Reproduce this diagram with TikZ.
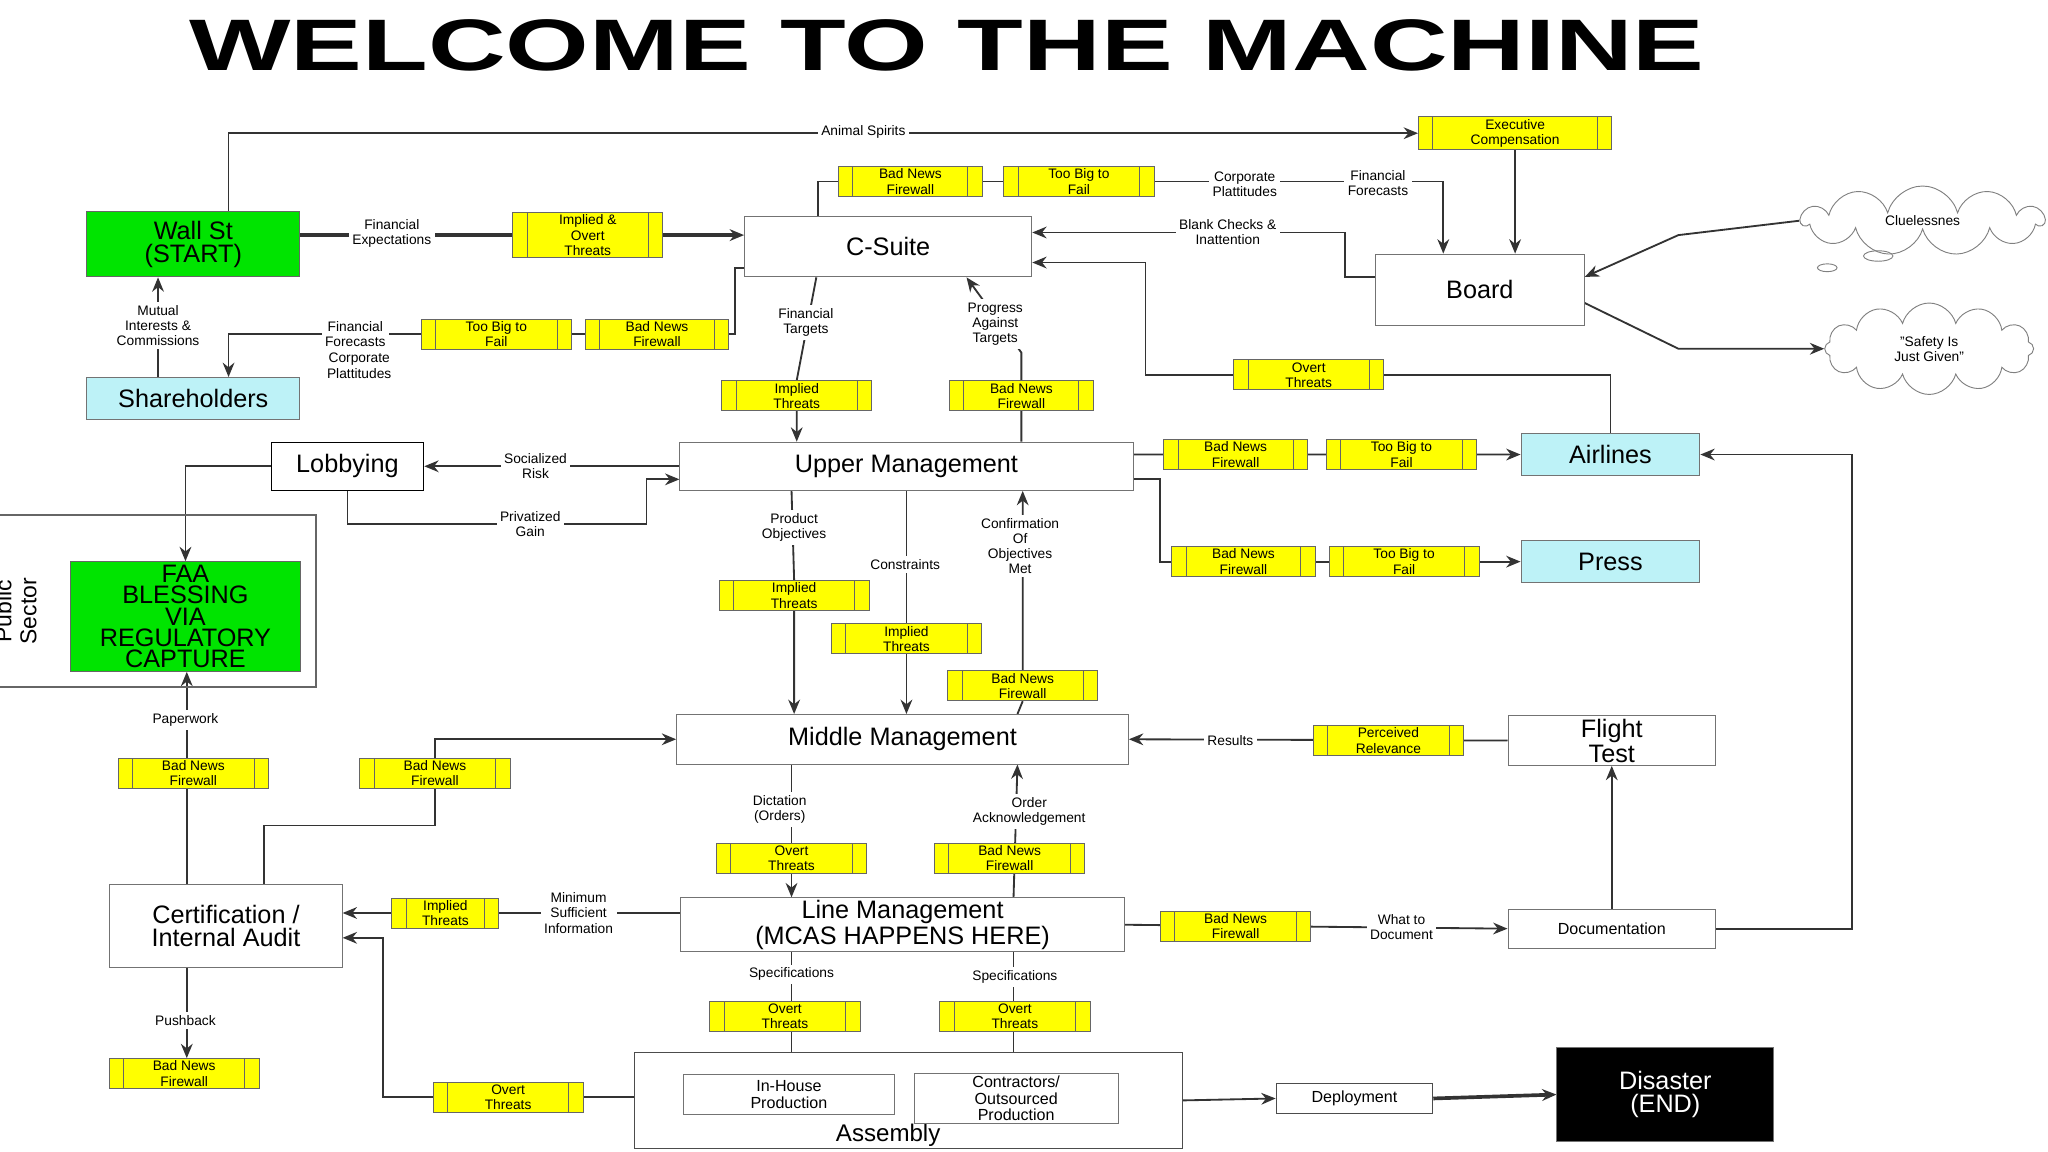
\documentclass[tikz,border=0pt]{standalone}
\usepackage{fontspec}
\setmainfont{Liberation Sans}
\usetikzlibrary{shapes.symbols,shapes.geometric,arrows.meta,calc}
\pgfdeclarelayer{background}
\pgfsetlayers{background,main}
\definecolor{gr}{HTML}{00E400}
\definecolor{cy}{HTML}{BDF2F7}
\definecolor{ye}{HTML}{FFFF00}
\newcommand\smf{\fontsize{6}{6.6}\selectfont}
\newcommand\bxf{\fontsize{11}{11.5}\selectfont}
\tikzset{
 yb/.style={draw=black!60, fill=ye, minimum width=2.3cm, minimum height=0.46cm, inner sep=1pt, align=center, font=\smf,
   path picture={\draw[black!60] ([xshift=0.22cm]path picture bounding box.south west) -- ([xshift=0.22cm]path picture bounding box.north west);
                 \draw[black!60] ([xshift=-0.22cm]path picture bounding box.south east) -- ([xshift=-0.22cm]path picture bounding box.north east);}},
 bx/.style={draw=black!55, fill=white, align=center, font=\bxf, inner sep=1pt},
 lbl/.style={fill=white, inner sep=1.5pt, align=center, font=\smf},
 ar/.style={-{Stealth[length=2.2mm,width=1.8mm]}},
 ln/.style={draw=black!80, line width=0.8pt},
}
\begin{document}
\begin{tikzpicture}[x=0.02cm,y=-0.02cm]
\useasboundingbox (0,0) rectangle (1568,882);
% title
\node (title) at (725,35) {\resizebox{23.2cm}{0.78cm}{\bfseries WELCOME TO THE MACHINE}};
% public sector frame
\draw[black!60, line width=0.8pt] (-5,394) rectangle (242,526);
\node[rotate=90, align=center, font=\fontsize{10}{11}\selectfont] (pst) at (12,468) {Public\\Sector};
% main boxes
\node[bx, fill=gr, draw=black!60, minimum width=3.26cm, minimum height=1cm, font=\fontsize{11}{10}\selectfont] (ws) at (148,187) {Wall St\\(START)};
\node[bx, fill=cy, minimum width=3.26cm, minimum height=0.64cm] (sh) at (148,305) {Shareholders};
\node[bx, minimum width=4.4cm, minimum height=0.92cm] (cs) at (680,189) {C-Suite};
\node[bx, minimum width=3.2cm, minimum height=1.1cm] (bd) at (1133,222) {Board};
\node[bx, draw=black, minimum width=2.34cm, minimum height=0.74cm] (lob) at (266,357) {Lobbying};
\node[bx, minimum width=6.94cm, minimum height=0.74cm] (um) at (694,357) {Upper Management};
\node[bx, fill=cy, minimum width=2.74cm, minimum height=0.64cm] (air) at (1233,348) {Airlines};
\node[bx, fill=cy, minimum width=2.74cm, minimum height=0.64cm] (press) at (1233,430) {Press};
\node[bx, fill=gr, draw=black!60, minimum width=3.52cm, minimum height=1.68cm, font=\fontsize{11}{9.2}\selectfont] (faa) at (142,472) {FAA\\BLESSING\\VIA\\REGULATORY\\CAPTURE};
\node[bx, minimum width=6.92cm, minimum height=0.76cm] (mm) at (691,566) {Middle Management};
\node[bx, minimum width=3.18cm, minimum height=0.76cm, font=\fontsize{11}{9.5}\selectfont] (ft) at (1234,567) {Flight\\Test};
\node[bx, minimum width=3.56cm, minimum height=1.26cm, font=\fontsize{11}{10}\selectfont] (cert) at (173,709) {Certification /\\Internal Audit};
\node[bx, minimum width=6.8cm, minimum height=0.78cm, font=\fontsize{11}{9.5}\selectfont] (lm) at (691,708) {Line Management\\(MCAS HAPPENS HERE)};
\node[bx, minimum width=3.18cm, minimum height=0.6cm, font=\fontsize{7}{8}\selectfont] (doc) at (1234,711) {Documentation};
\node[bx, draw=black!70, minimum width=8.38cm, minimum height=1.46cm] (asm) at (695.5,842.5) {};
\node[font=\fontsize{10.5}{11}\selectfont, inner sep=0pt] (asmt) at (680,869) {Assembly};
\node[bx, minimum width=3.22cm, minimum height=0.6cm, font=\fontsize{7}{7.5}\selectfont] (ihp) at (604,838) {In-House\\Production};
\node[bx, minimum width=3.12cm, minimum height=0.74cm, font=\fontsize{7}{7.3}\selectfont] (cop) at (778,841) {Contractors/\\Outsourced\\Production};
\node[bx, draw=black!70, minimum width=2.4cm, minimum height=0.46cm, font=\fontsize{7}{8}\selectfont] (dep) at (1037,841) {Deployment};
\node[bx, fill=black, text=white, minimum width=3.32cm, minimum height=1.44cm, font=\fontsize{11}{10}\selectfont] (dis) at (1275,838) {Disaster\\(END)};
% clouds
\node[cloud, cloud puffs=11, aspect=4.5, draw=black!50, fill=white, minimum width=3.7cm, minimum height=0.85cm, font=\smf] (cl1) at (1472,169) {Cluelessnes};
\node[ellipse, draw=black!50, minimum width=0.45cm, minimum height=0.16cm, inner sep=0pt] (e1) at (1438,196) {};
\node[ellipse, draw=black!50, minimum width=0.3cm, minimum height=0.12cm, inner sep=0pt] (e2) at (1399,205) {};
\node[cloud, cloud puffs=12, aspect=2.3, draw=black!50, fill=white, minimum width=3.2cm, minimum height=1.4cm, align=center, font=\smf] (cl2) at (1477,267) {"Safety Is\\Just Given"};
% yellow boxes
\node[yb, minimum width=2.96cm] (ec) at (1160,102) {Executive\\Compensation};
\node[yb, minimum height=0.64cm] (io) at (450,180) {Implied \&\\Overt\\Threats};
\node[yb, minimum width=2.2cm] (bn1) at (697,139) {Bad News\\Firewall};
\node[yb] (tb1) at (826,139) {Too Big to\\Fail};
\node[yb] (tb2) at (380,256) {Too Big to\\Fail};
\node[yb, minimum width=2.2cm] (bn2) at (503,256) {Bad News\\Firewall};
\node[yb] (it1) at (610,303) {Implied\\Threats};
\node[yb, minimum width=2.2cm] (bn3) at (782,303) {Bad News\\Firewall};
\node[yb] (ot1) at (1002,287) {Overt\\Threats};
\node[yb, minimum width=2.2cm] (bn9) at (946,348) {Bad News\\Firewall};
\node[yb] (tb3) at (1073,348) {Too Big to\\Fail};
\node[yb, minimum width=2.2cm] (bn10) at (952,430) {Bad News\\Firewall};
\node[yb] (tb4) at (1075,430) {Too Big to\\Fail};
\node[yb] (it2) at (608,456) {Implied\\Threats};
\node[yb] (it3) at (694,489) {Implied\\Threats};
\node[yb] (bn4) at (783,525) {Bad News\\Firewall};
\node[yb] (pr) at (1063,567) {Perceived\\Relevance};
\node[yb] (bn5) at (148,592) {Bad News\\Firewall};
\node[yb] (bn6) at (333,592) {Bad News\\Firewall};
\node[yb] (ot2) at (606,657) {Overt\\Threats};
\node[yb] (bn7) at (773,657) {Bad News\\Firewall};
\node[yb, minimum width=1.64cm] (it4) at (341,699) {Implied\\Threats};
\node[yb] (bn11) at (946,709) {Bad News\\Firewall};
\node[yb] (ot3) at (601,778) {Overt\\Threats};
\node[yb] (ot4) at (777,778) {Overt\\Threats};
\node[yb] (bn8) at (141,822) {Bad News\\Firewall};
\node[yb] (ot5) at (389,840) {Overt\\Threats};
% labels
\node[lbl] (l1) at (661,101) {Animal Spirits};
\node[lbl] (l2) at (300,179) {Financial\\Expectations};
\node[lbl] (l3) at (953,141) {Corporate\\Plattitudes};
\node[lbl] (l4) at (1055,140) {Financial\\Forecasts};
\node[lbl] (l5) at (940,178) {Blank Checks \&\\Inattention};
\node[lbl] (l6) at (121,249) {Mutual\\Interests \&\\Commissions};
\node[lbl] (l7) at (272,256) {Financial\\Forecasts};
\node[lbl] (l8) at (275,280) {Corporate\\Plattitudes};
\node[lbl] (l9) at (617,247) {Financial\\Targets};
\node[lbl] (l10) at (762,248) {Progress\\Against\\Targets};
\node[lbl] (l11) at (410,357) {Socialized\\Risk};
\node[lbl] (l12) at (406,401) {Privatized\\Gain};
\node[lbl] (l13) at (608,404) {Product\\Objectives};
\node[lbl] (l14) at (693,432) {Constraints};
\node[lbl] (l15) at (781,418) {Confirmation\\Of\\Objectives\\Met};
\node[lbl] (l16) at (942,567) {Results};
\node[lbl] (l17) at (142,551) {Paperwork};
\node[lbl] (l18) at (597,620) {Dictation\\(Orders)};
\node[lbl] (l19) at (788,621) {Order\\Acknowledgement};
\node[lbl] (l20) at (443,699) {Minimum\\Sufficient\\Information};
\node[lbl] (l21) at (1073,710) {What to\\Document};
\node[lbl] (l22) at (606,746) {Specifications};
\node[lbl] (l23) at (777,748) {Specifications};
\node[lbl] (l24) at (142,781) {Pushback};
% helper coordinates
\coordinate (k1) at (877,287);
\coordinate (k2) at (1285,180);
\coordinate (k3) at (1285,267);
\coordinate (k4) at (495,401);
\coordinate (k5) at (888,430);
\coordinate (k6) at (333,632);
\coordinate (k7) at (1418,348);
\coordinate (k8) at (293,718);
\coordinate (k9) at (782,270);
% connectors
\begin{pgfonlayer}{background}
\fill[white] (0,0) rectangle (1568,882);
\begin{scope}[ln]
\draw[ar] ([xshift=0.54cm]ws.north) |- (ec.west);
\draw[ar] (ec.south) -- (ec.south |- bd.north);
\draw[ar, line width=1.6pt] (ws.east |- io) -- (cs.west |- io);
\draw[ar] ([xshift=-0.54cm]sh.north) -- ([xshift=-0.54cm]ws.south);
\draw[ar] ([yshift=-0.32cm]cs.west) -- ++(-7,0) |- ([xshift=0.54cm]sh.north |- bn2) -- ([xshift=0.54cm]sh.north);
\draw[ar] ([xshift=-1.08cm]cs.north) |- (bn1) -- (tb1) -| ([xshift=-0.56cm]bd.north);
\draw[ar] ([yshift=0.2cm]bd.west) -- ++(-23,0) |- ([yshift=0.22cm]cs.east);
\draw[ar] (air.north) |- (ot1) -- (k1) |- ([yshift=-0.24cm]cs.east);
\draw[ar] (cl1.west) -- (k2) -- ([yshift=0.2cm]bd.east);
\draw[ar] ([yshift=-0.2cm]bd.east) -- (k3) -- (cl2.west);
\draw[ar] ([xshift=-1.1cm]cs.south) -- (it1.north) (it1.south) -- (it1.south |- um.north);
\draw[ar] ([xshift=1.76cm]um.north) -- (bn3.south) (bn3.north) -- (k9) -- ([xshift=1.2cm]cs.south);
\draw[ar] (um.west) -- (lob.east);
\draw[ar] (lob.south) |- (k4) |- ([yshift=-0.2cm]um.west);
\draw[ar] (lob.west) -| (faa.north);
\draw[ar] ([yshift=0.18cm]um.east) -- (air.west);
\draw[ar] ([yshift=-0.2cm]um.east) -| (k5) -- (press.west);
\draw[ar] ([xshift=-1.76cm]um.south) -- (it2.north) (it2.south) -- (it2.south |- mm.north);
\draw[ar] (um.south) -- (it3.north) (it3.south) -- (it3.south |- mm.north);
\draw[ar] ([xshift=1.76cm]mm.north) -- (bn4.south) (bn4.north) -- (bn4.north |- um.south);
\draw[ar] (ft.west) -- (mm.east);
\draw[ar] ([xshift=0.58cm]cert.north) |- (k6) |- (mm.west);
\draw[ar] ([xshift=-0.6cm]cert.north) -- ([xshift=-0.6cm]cert.north |- faa.south);
\draw[ar] ([xshift=-1.7cm]mm.south) -- ([xshift=-1.7cm]lm.north);
\draw[ar] ([xshift=1.7cm]lm.north) -- ([xshift=1.76cm]mm.south);
\draw[ar] ([yshift=0.18cm]lm.west) -- ([yshift=0.2cm]cert.east);
\draw[ar] (lm.east) -- (doc.west);
\draw[ar] (doc.north) -- (ft.south);
\draw[ar] (doc.east) -| (k7) -- (air.east);
\draw[ar] ([xshift=-1.7cm]lm.south) -- ([xshift=-1.7cm]lm.south |- ihp.north);
\draw[ar] ([xshift=1.7cm]lm.south) -- ([xshift=1.7cm]lm.south |- cop.north);
\draw[ar] ([xshift=-0.6cm]cert.south) -- ([xshift=-0.6cm]cert.south |- bn8.north);
\draw[ar] ([yshift=0.05cm]asm.west) -| (k8) -- (cert.east |- k8);
\draw[ar] (asm.east) -- (dep.west);
\draw[ar, line width=1.6pt] (dep.east) -- (dis.west);
\end{scope}
\end{pgfonlayer}
\end{tikzpicture}
\end{document}
